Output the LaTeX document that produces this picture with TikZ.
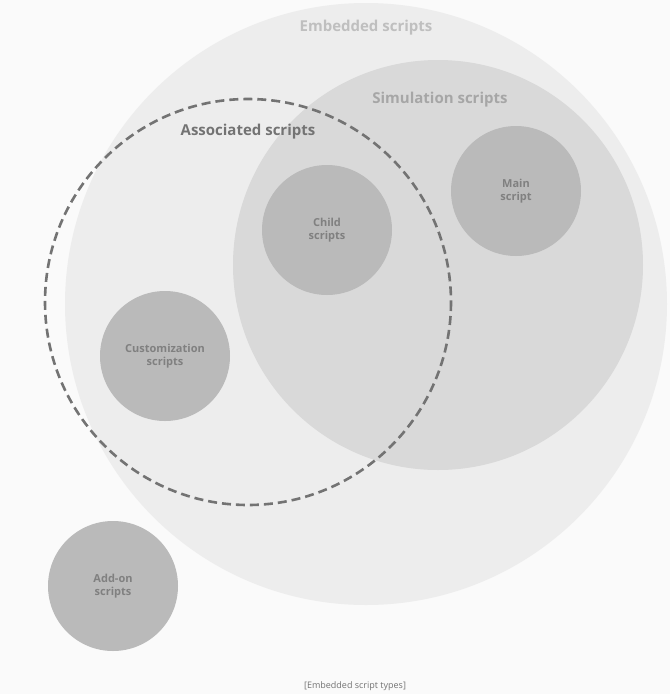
\documentclass[tikz,border=0pt]{standalone}
\usepackage{fontspec}
\setmainfont{Open Sans}
\begin{document}
\begin{tikzpicture}[x=1pt,y=-1pt,
  small/.style={circle,fill=black!27,minimum size=130pt,inner sep=0pt,align=center,font=\bfseries\fontsize{11}{13}\selectfont,text=black!50},
  title/.style={font=\bfseries\fontsize{15}{18}\selectfont}]
\useasboundingbox[fill=black!2] (0,0) rectangle (670,694);
\fill[black!7] (366,304) circle (301);
\fill[black!15] (438,265) circle (205);
\node[small] (main) at (516,191) {Main\\script};
\node[small] (child) at (327,230) {Child\\scripts};
\node[small] (cust) at (165,356) {Customization\\scripts};
\node[small] (addon) at (113,586) {Add-on\\scripts};
\draw[black!55,line width=2.6pt,dash pattern=on 9pt off 5pt] (248,302) circle (203);
\node[title,text=black!25] (emb) at (366,28) {Embedded scripts};
\node[title,text=black!35] (sim) at (440,100) {Simulation scripts};
\node[title,text=black!55] (ass) at (248,132) {Associated scripts};
\node[font=\fontsize{9}{11}\selectfont,text=black!55] (cap) at (355,686) {[Embedded script types]};
\end{tikzpicture}
\end{document}
